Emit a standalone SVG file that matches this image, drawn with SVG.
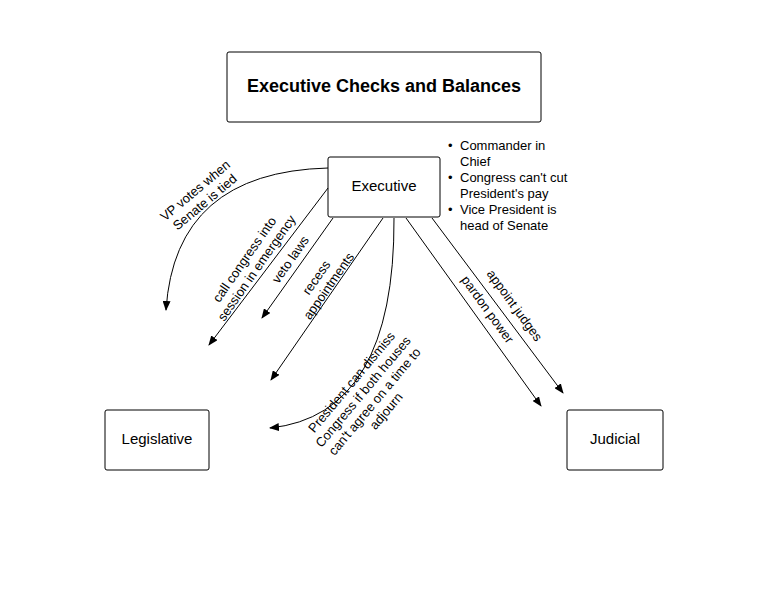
<svg xmlns="http://www.w3.org/2000/svg" width="768" height="594" viewBox="0 0 768 594">
<style>
.box{fill:#fff;stroke:#000;stroke-width:1}
text{font-family:"Liberation Sans",Arial,sans-serif;fill:#000}
.lbl{font-size:13px;text-anchor:middle}
.c{fill:none;stroke:#000;stroke-width:1;marker-end:url(#ah)}
</style>
<defs><marker id="ah" markerWidth="10" markerHeight="8" refX="9" refY="4" orient="auto" markerUnits="userSpaceOnUse"><path d="M0,0 L10,4 L0,8 z" fill="#000"/></marker></defs>
<rect width="768" height="594" fill="#fff"/>
<g id="title"><rect class="box" x="227" y="52" width="314" height="70" rx="2"/><text x="384" y="92" font-size="18" font-weight="bold" text-anchor="middle">Executive Checks and Balances</text></g>
<g id="executive"><rect class="box" x="328" y="157" width="112" height="60" rx="2"/><text x="384" y="191" font-size="15" text-anchor="middle">Executive</text></g>
<g id="legislative"><rect class="box" x="105" y="410" width="104" height="60" rx="2"/><text x="157" y="444" font-size="15" text-anchor="middle">Legislative</text></g>
<g id="judicial"><rect class="box" x="567" y="410" width="96" height="60" rx="2"/><text x="615" y="444" font-size="15" text-anchor="middle">Judicial</text></g>
<g id="notes" font-size="13">
<text x="448" y="150">•</text><text x="460" y="150">Commander in</text><text x="460" y="166">Chief</text>
<text x="448" y="182">•</text><text x="460" y="182">Congress can't cut</text><text x="460" y="198">President's pay</text>
<text x="448" y="214">•</text><text x="460" y="214">Vice President is</text><text x="460" y="230">head of Senate</text>
</g>
<g id="connectors">
<path class="c" d="M328,168 Q175,172 166,310"/>
<path class="c" d="M328,188 L209,345"/>
<path class="c" d="M333,218 L262,318"/>
<path class="c" d="M383,218 L271,380"/>
<path class="c" d="M394,218 Q395,415 270,428"/>
<path class="c" d="M406,218 L541,406"/>
<path class="c" d="M432,218 L563,393"/>
</g>
<g id="labels" class="lbl">
<text class="lbl" transform="translate(198,194) rotate(-40)"><tspan x="0" y="0">VP votes when</tspan><tspan x="0" y="15">Senate is tied</tspan></text>
<text class="lbl" transform="translate(248,262) rotate(-55)"><tspan x="0" y="0">call congress into</tspan><tspan x="0" y="15">session in emergency</tspan></text>
<text class="lbl" transform="translate(294,262) rotate(-55)">veto laws</text>
<text class="lbl" transform="translate(320,280) rotate(-55)"><tspan x="0" y="0">recess</tspan><tspan x="0" y="15">appointments</tspan></text>
<text class="lbl" transform="translate(355,385) rotate(-50)"><tspan x="0" y="0">President can dismiss</tspan><tspan x="0" y="15">Congress if both houses</tspan><tspan x="0" y="30">can't agree on a time to</tspan><tspan x="0" y="45">adjourn</tspan></text>
<text class="lbl" transform="translate(511,308) rotate(54)">appoint judges</text>
<text class="lbl" transform="translate(484,312) rotate(54)">pardon power</text>
</g>
</svg>
